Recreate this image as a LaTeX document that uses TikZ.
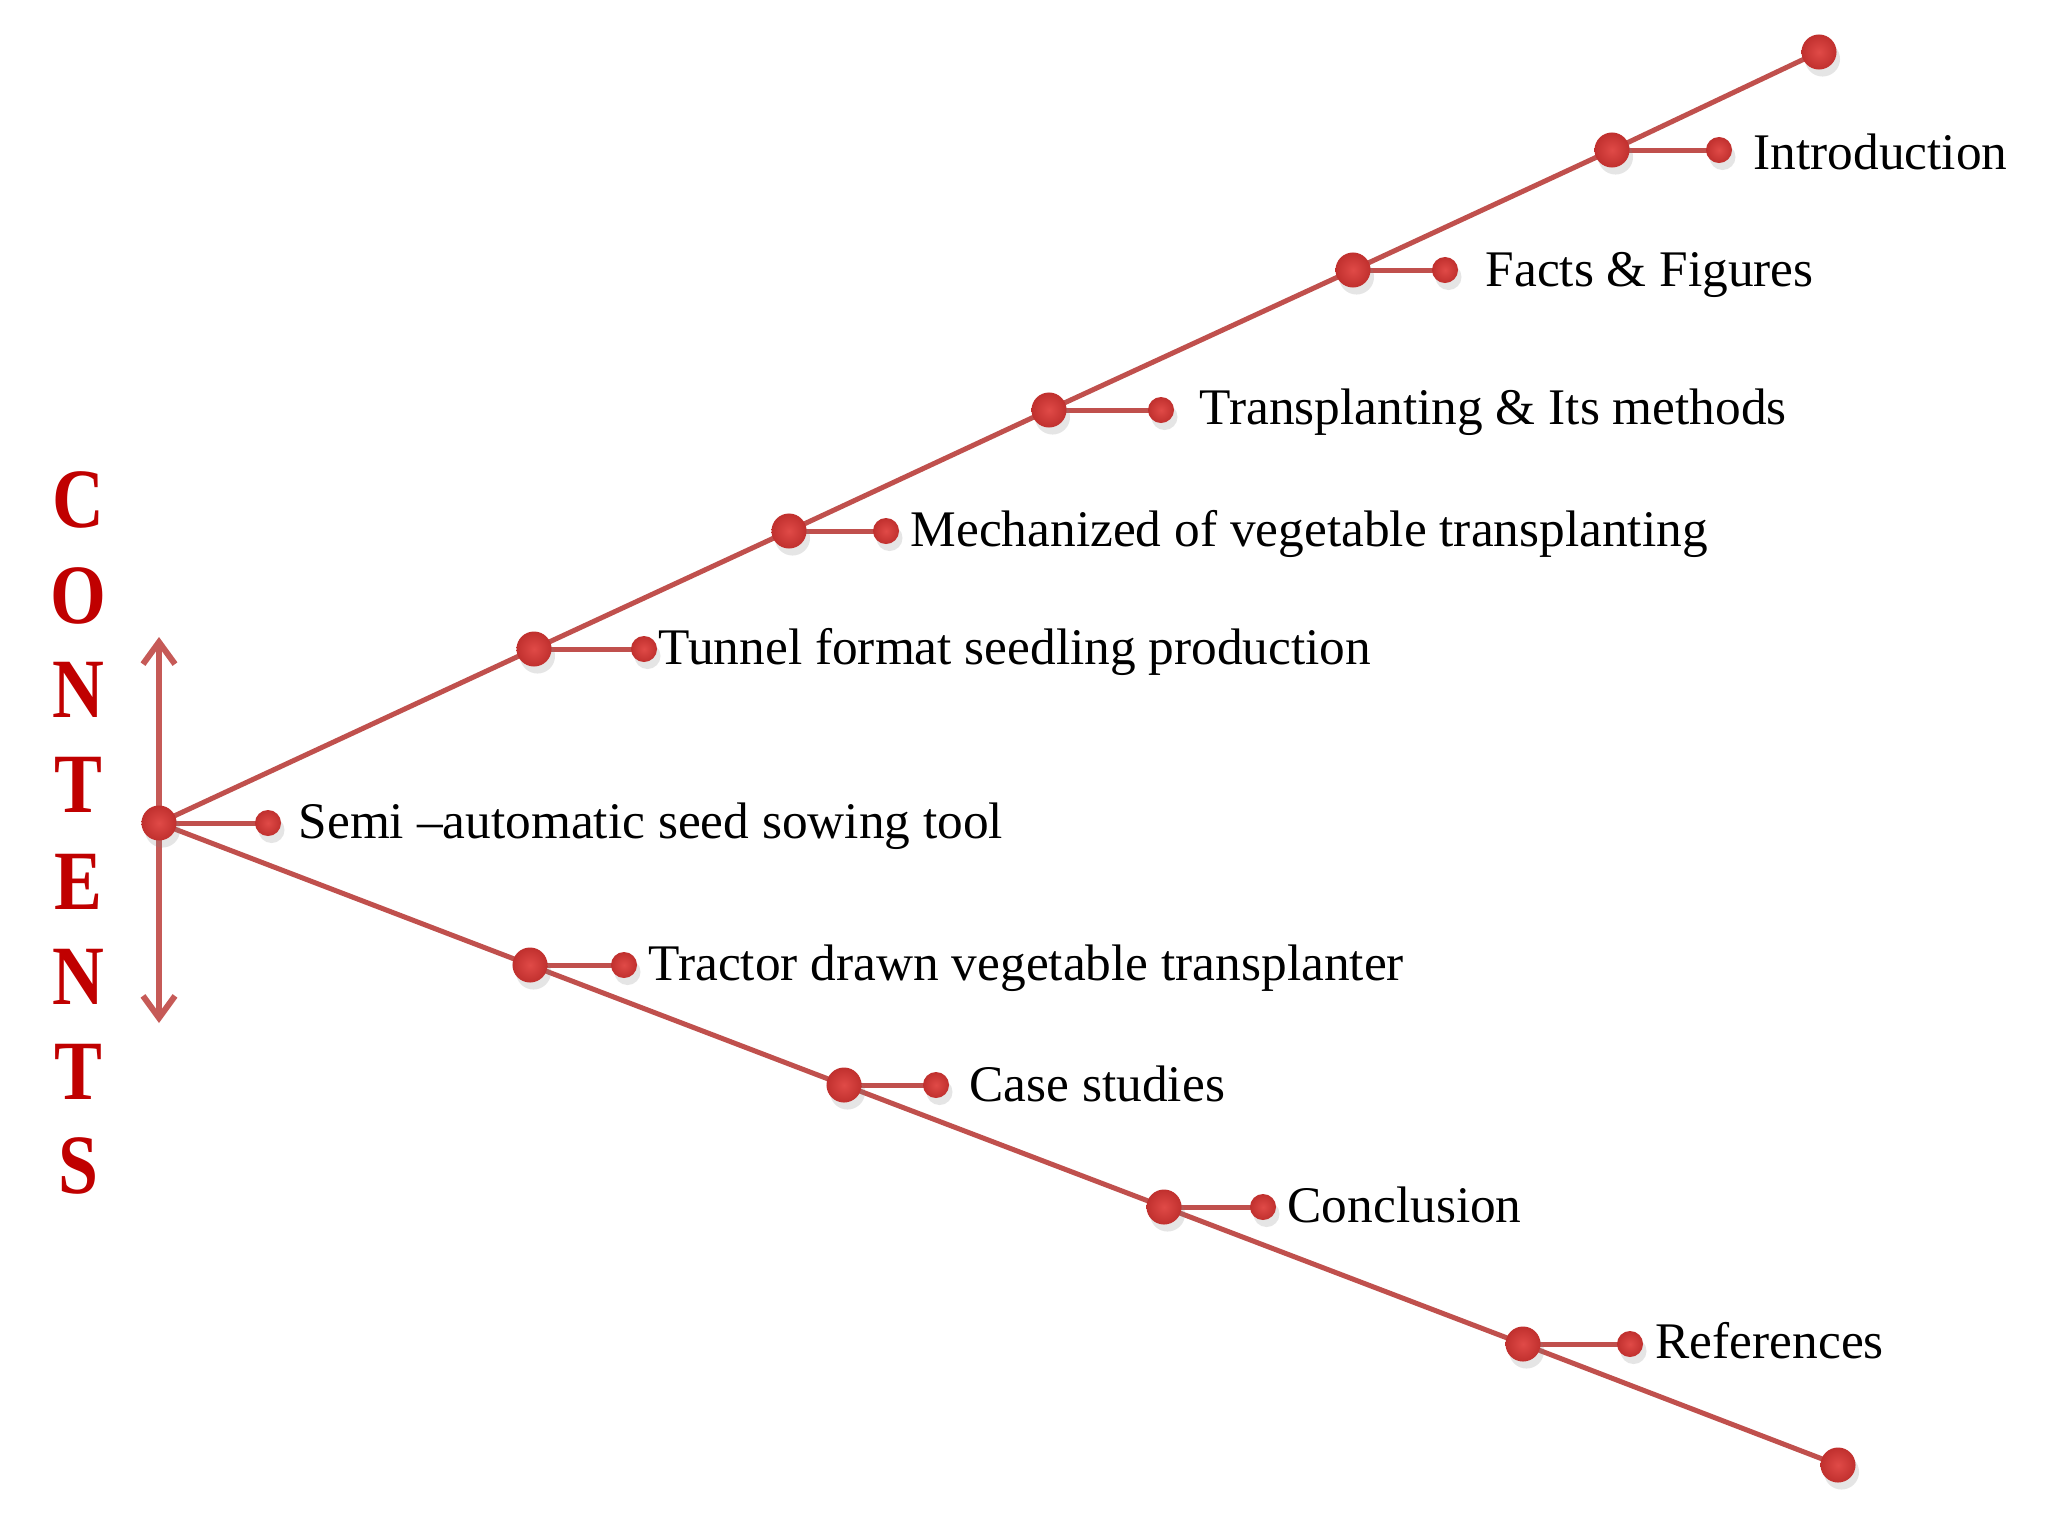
\documentclass[tikz,border=0pt]{standalone}
\usepackage{fontspec}
\setmainfont{Liberation Serif}
\usetikzlibrary{arrows.meta,backgrounds,shadows}
\definecolor{linered}{HTML}{C0504D}
\definecolor{arrowred}{HTML}{C65A57}
\definecolor{dotin}{HTML}{E04A47}
\definecolor{dotout}{HTML}{C0302E}
\definecolor{titlered}{HTML}{C00000}
\begin{document}
\begin{tikzpicture}[x=0.01cm,y=-0.01cm,
  bigdot/.style={circle,inner sep=0pt,minimum size=0.35cm,shading=radial,inner color=dotin,outer color=dotout,
    drop shadow={opacity=0.2,shadow xshift=1pt,shadow yshift=-2pt}},
  smalldot/.style={bigdot,minimum size=0.26cm},
  branch/.style={draw=linered,line width=0.05cm},
  vlink/.style={draw=arrowred,line width=0.06cm,-{Straight Barb[length=0.22cm,width=0.32cm,line width=0.06cm]}},
  itemlabel/.style={anchor=base west,inner sep=0pt,font=\fontsize{14.6}{18}\selectfont},
  letter/.style={text=titlered,inner sep=0pt,font=\fontsize{24}{28}\selectfont\bfseries}]
\useasboundingbox (0,0) rectangle (2048,1536);

% main dots
\node[bigdot] (O) at (159,823) {};
\node[bigdot] (T) at (1819,52) {};
\node[bigdot] (B) at (1838,1465) {};
\node[bigdot] (u1) at (534,649) {};
\node[bigdot] (u2) at (789,531) {};
\node[bigdot] (u3) at (1049,410) {};
\node[bigdot] (u4) at (1353,270) {};
\node[bigdot] (u5) at (1612,150) {};
\node[bigdot] (d1) at (530,965) {};
\node[bigdot] (d2) at (844,1085) {};
\node[bigdot] (d3) at (1164,1207) {};
\node[bigdot] (d4) at (1523,1344) {};

% small dots
\node[smalldot] (s0) at (268,823) {};
\node[smalldot] (s1) at (644,649) {};
\node[smalldot] (s2) at (886,531) {};
\node[smalldot] (s3) at (1161,410) {};
\node[smalldot] (s4) at (1445,270) {};
\node[smalldot] (s5) at (1719,150) {};
\node[smalldot] (t1) at (624,965) {};
\node[smalldot] (t2) at (936,1085) {};
\node[smalldot] (t3) at (1263,1207) {};
\node[smalldot] (t4) at (1630,1344) {};

% labels
\node[itemlabel] (L0) at (298,838) {Semi –automatic seed sowing tool};
\node[itemlabel] (L1) at (658,664) {Tunnel format seedling production};
\node[itemlabel] (L2) at (910,546) {Mechanized of vegetable transplanting};
\node[itemlabel] (L3) at (1199,424) {Transplanting \& Its methods};
\node[itemlabel] (L4) at (1485,286) {Facts \& Figures};
\node[itemlabel] (L5) at (1753,169) {Introduction};
\node[itemlabel] (M1) at (648,980) {Tractor drawn vegetable transplanter};
\node[itemlabel] (M2) at (969,1101) {Case studies};
\node[itemlabel] (M3) at (1287,1222) {Conclusion};
\node[itemlabel] (M4) at (1655,1358) {References};

% CONTENTS
\node[letter] (c1) at (78,500) {\scalebox{0.85}[1]{C}};
\node[letter] (c2) at (78,596) {\scalebox{0.85}[1]{O}};
\node[letter] (c3) at (78,690) {\scalebox{0.85}[1]{N}};
\node[letter] (c4) at (78,785) {\scalebox{0.85}[1]{T}};
\node[letter] (c5) at (78,882) {\scalebox{0.85}[1]{E}};
\node[letter] (c6) at (78,977) {\scalebox{0.85}[1]{N}};
\node[letter] (c7) at (78,1072) {\scalebox{0.85}[1]{T}};
\node[letter] (c8) at (78,1166) {\scalebox{0.85}[1]{S}};

\coordinate (au) at (159,637);
\coordinate (ad) at (159,1023);

\begin{pgfonlayer}{background}
  \fill[white] (0,0) rectangle (2048,1536);
  \draw[vlink] (O.center) -- (au);
  \draw[vlink] (O.center) -- (ad);
  \draw[branch] (O.center) -- (u1.center) -- (u2.center) -- (u3.center) -- (u4.center) -- (u5.center) -- (T.center);
  \draw[branch] (O.center) -- (d1.center) -- (d2.center) -- (d3.center) -- (d4.center) -- (B.center);
  \draw[branch] (O.center) -- (s0.center);
  \draw[branch] (u1.center) -- (s1.center);
  \draw[branch] (u2.center) -- (s2.center);
  \draw[branch] (u3.center) -- (s3.center);
  \draw[branch] (u4.center) -- (s4.center);
  \draw[branch] (u5.center) -- (s5.center);
  \draw[branch] (d1.center) -- (t1.center);
  \draw[branch] (d2.center) -- (t2.center);
  \draw[branch] (d3.center) -- (t3.center);
  \draw[branch] (d4.center) -- (t4.center);
\end{pgfonlayer}
\end{tikzpicture}
\end{document}
